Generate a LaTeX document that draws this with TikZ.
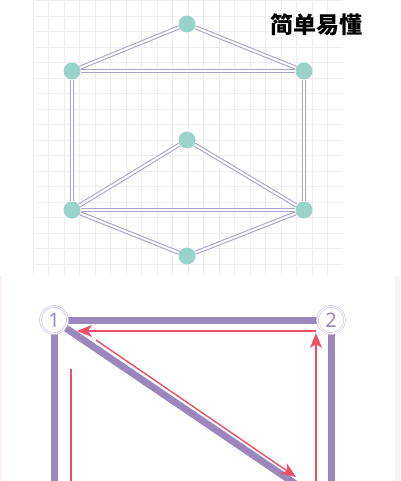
\documentclass[tikz,border=0pt]{standalone}
\usepackage{fontspec}
\newfontfamily\cjk{Noto Sans CJK SC}
\setsansfont{Noto Sans}
\usetikzlibrary{arrows.meta,backgrounds}
\definecolor{gridgray}{HTML}{EFEFF3}
\definecolor{dotteal}{HTML}{9AD3CA}
\definecolor{edgepurple}{HTML}{ADA3CF}
\definecolor{barpurple}{HTML}{9B87BE}
\definecolor{ringpurple}{HTML}{D6CBEA}
\definecolor{arrowred}{HTML}{F04E64}

\begin{document}
\begin{tikzpicture}[x=1pt, y=-1pt,
		dot/.style={circle, fill=dotteal, minimum size=17pt, inner sep=0pt},
		edge/.style={draw=edgepurple, line width=1.1pt, double=white, double distance=2pt},
		num/.style={circle, draw=ringpurple, double=white, double distance=1pt, line width=0.8pt,
			fill=white, minimum size=27pt, inner sep=0pt, text=barpurple,
			font=\sffamily\fontsize{20}{20}\selectfont},
		bar/.style={draw=barpurple, line width=7pt},
		redline/.style={draw=arrowred, line width=1.4pt},
		redarrow/.style={redline, -{Stealth[length=15pt, width=12pt, inset=4pt]}}]
	\useasboundingbox (0,0) rectangle (400,481);
	% grid behind the upper graph
	\begin{scope}
		\clip (33,0) rectangle (343,276);
		\foreach \i in {0,...,20}
			\draw[gridgray, line width=0.8pt] (33+\i*15.5,0) -- (33+\i*15.5,276);
		\foreach \j in {0,...,17}
			\draw[gridgray, line width=0.8pt] (33,0.5+\j*15.5) -- (343,0.5+\j*15.5);
	\end{scope}
	\fill[gray!7] (395,276) rectangle (400,481);
	\fill[red!6] (0,276) rectangle (1.5,481);

	% upper graph
	\node[dot] (t) at (187,24) {};
	\node[dot] (lu) at (72,71) {};
	\node[dot] (ru) at (304,71) {};
	\node[dot] (m) at (187,140) {};
	\node[dot] (ll) at (72,210) {};
	\node[dot] (rl) at (304,210) {};
	\node[dot] (b) at (187,256) {};
	\foreach \a/\b in {t/lu, t/ru, lu/ru, lu/ll, ru/rl, m/ll, m/rl, ll/rl, ll/b, rl/b}
		\draw[edge] (\a) -- (\b);
	\node[font=\cjk\bfseries\fontsize{23}{23}\selectfont] (title) at (316,25) {简单易懂};

	% lower graph
	\node[num] (n1) at (54,320) {1};
	\node[num] (n2) at (331,320) {2};
	\coordinate (n3) at (331,508);
	\coordinate (n4) at (54,508);
	\begin{scope}[on background layer]
		\clip (0,276) rectangle (400,481);
		\draw[bar] (n1) -- (n2);
		\draw[bar] (n2) -- (n3);
		\draw[bar] (n1) -- (n3);
		\draw[bar] (n1) -- (n4);
	\end{scope}

	% walk along the edges
	\coordinate (h1) at (316,331);
	\coordinate (h2) at (77,331);
	\coordinate (v1) at (316,490);
	\coordinate (v2) at (316,333);
	\coordinate (d1) at (96,340);
	\coordinate (d2) at (296,477);
	\coordinate (w1) at (71,369);
	\coordinate (w2) at (71,490);
	\begin{scope}
		\clip (0,276) rectangle (400,481);
		\draw[redarrow] (h1) -- (h2);
		\draw[redarrow] (v1) -- (v2);
		\draw[redarrow] (d1) -- (d2);
		\draw[redline] (w1) -- (w2);
	\end{scope}
\end{tikzpicture}
\end{document}
